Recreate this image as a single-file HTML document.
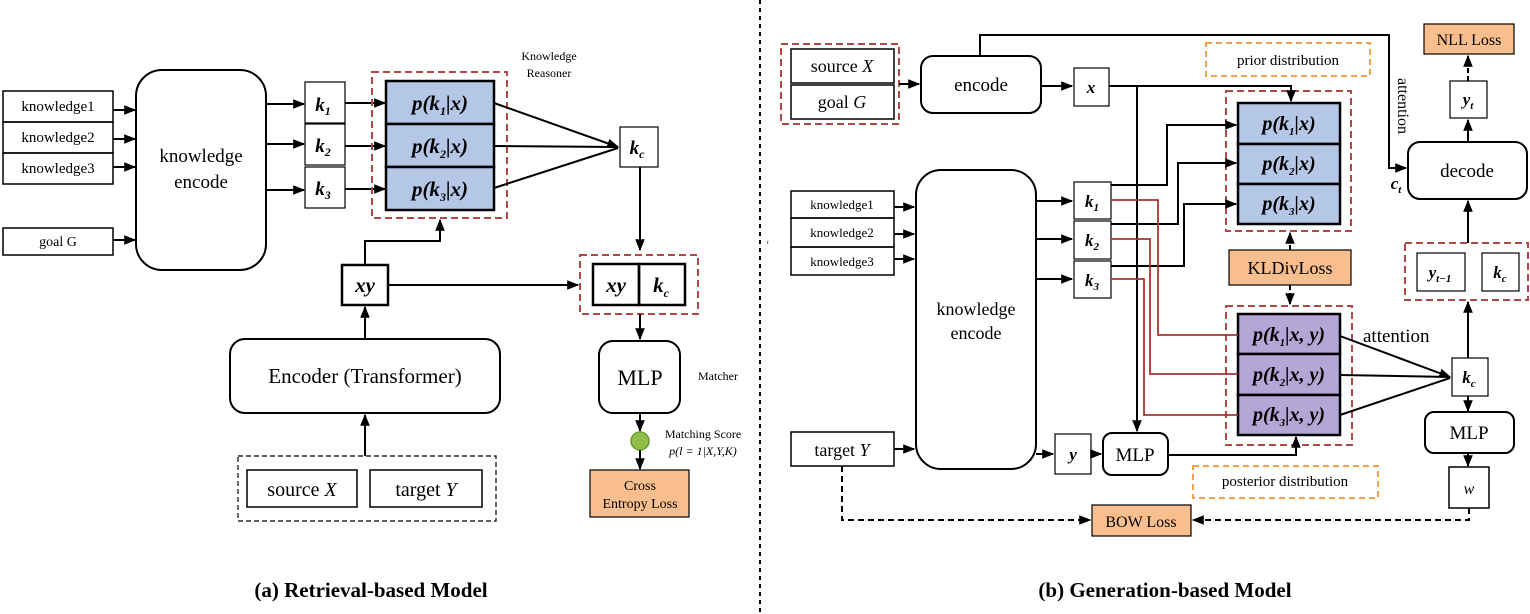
<!DOCTYPE html>
<html><head><meta charset="utf-8"><style>
html,body{margin:0;padding:0;background:#fff}
svg{display:block}
text{font-family:"Liberation Serif",serif;fill:#000}
.m{font-style:italic;font-weight:bold}
</style></head><body>
<svg width="1530" height="614" viewBox="0 0 1530 614" xmlns="http://www.w3.org/2000/svg">
<defs>
<marker id="a" viewBox="0 0 10 10" refX="9" refY="5" markerWidth="6" markerHeight="6" orient="auto-start-reverse"><path d="M0,1 L10,5 L0,9 z" fill="#000"/></marker>
</defs>
<g fill="none" stroke="#000" stroke-width="2">
<!-- LEFT -->
<rect x="3" y="91" width="110" height="31" stroke-width="1.5"/>
<rect x="3" y="122" width="110" height="31" stroke-width="1.5"/>
<rect x="3" y="153" width="110" height="31" stroke-width="1.5"/>
<rect x="3" y="228" width="110" height="27" stroke-width="1.5"/>
<rect x="136" y="70" width="130" height="200" rx="26"/>
<line x1="113" y1="110" x2="135" y2="110" marker-end="url(#a)"/>
<line x1="113" y1="139" x2="135" y2="139" marker-end="url(#a)"/>
<line x1="113" y1="167" x2="135" y2="167" marker-end="url(#a)"/>
<line x1="113" y1="240" x2="135" y2="240" marker-end="url(#a)"/>
<line x1="266" y1="104" x2="304" y2="104" marker-end="url(#a)"/>
<line x1="266" y1="144" x2="304" y2="144" marker-end="url(#a)"/>
<line x1="266" y1="190" x2="304" y2="190" marker-end="url(#a)"/>
<rect x="305" y="82" width="40" height="41" stroke-width="1.2"/>
<rect x="305" y="124" width="40" height="41" stroke-width="1.2"/>
<rect x="305" y="167" width="40" height="41" stroke-width="1.2"/>
<line x1="345" y1="103" x2="385" y2="103" marker-end="url(#a)"/>
<line x1="345" y1="146" x2="385" y2="146" marker-end="url(#a)"/>
<line x1="345" y1="189" x2="385" y2="189" marker-end="url(#a)"/>
<rect x="372" y="72" width="135" height="146" stroke="#b04848" stroke-dasharray="7,4"/>
<rect x="386" y="81" width="108" height="43" fill="#b4c7e7" stroke-width="2.5"/>
<rect x="386" y="124" width="108" height="43" fill="#b4c7e7" stroke-width="2.5"/>
<rect x="386" y="167" width="108" height="43" fill="#b4c7e7" stroke-width="2.5"/>
<line x1="494" y1="103" x2="618" y2="147" marker-end="url(#a)"/>
<line x1="494" y1="146" x2="618" y2="147"/>
<line x1="494" y1="188" x2="618" y2="148"/>
<rect x="620" y="127" width="38" height="40" stroke-width="1.2"/>
<line x1="640" y1="167" x2="640" y2="250" marker-end="url(#a)"/>
<rect x="580" y="255" width="118" height="59" stroke="#b04848" stroke-dasharray="7,4"/>
<rect x="593" y="264" width="46" height="41" stroke-width="2.5"/>
<rect x="639" y="264" width="46" height="41" stroke-width="2.5"/>
<rect x="342" y="265" width="46" height="40" stroke-width="2.5"/>
<polyline points="365,265 365,241 440,241 440,220" marker-end="url(#a)"/>
<line x1="388" y1="285" x2="578" y2="285" marker-end="url(#a)"/>
<rect x="230" y="339" width="270" height="74" rx="15"/>
<line x1="365" y1="339" x2="365" y2="307" marker-end="url(#a)"/>
<rect x="238" y="456" width="258" height="65" stroke-width="1.2" stroke-dasharray="5,3"/>
<rect x="247" y="470" width="110" height="37" stroke-width="1.5"/>
<rect x="370" y="470" width="112" height="37" stroke-width="1.5"/>
<line x1="365" y1="456" x2="365" y2="415" marker-end="url(#a)"/>
<rect x="599" y="341" width="81" height="72" rx="14"/>
<line x1="640" y1="314" x2="640" y2="339" marker-end="url(#a)"/>
<line x1="640" y1="413" x2="640" y2="431" marker-end="url(#a)"/>
<circle cx="640" cy="441" r="9" fill="#8fbf4a" stroke="#6a9a30" stroke-width="1.5"/>
<line x1="640" y1="450" x2="640" y2="469" marker-end="url(#a)"/>
<rect x="590" y="470" width="99" height="47" fill="#f8be8e" stroke-width="1.2"/>
<line x1="760" y1="0" x2="760" y2="614" stroke-width="2" stroke-dasharray="4,4"/>
<!-- RIGHT -->
<rect x="781" y="44" width="118" height="80" stroke="#b04848" stroke-dasharray="7,4"/>
<rect x="791" y="49" width="103" height="34" stroke-width="1.5"/>
<rect x="791" y="85" width="103" height="34" stroke-width="1.5"/>
<line x1="899" y1="84" x2="919" y2="84" marker-end="url(#a)"/>
<rect x="921" y="56" width="120" height="57" rx="12"/>
<line x1="1041" y1="86" x2="1072" y2="86" marker-end="url(#a)"/>
<rect x="1074" y="68" width="35" height="38" stroke-width="1.2"/>
<polyline points="980,56 980,35 1389,35 1389,168 1406,168" marker-end="url(#a)"/>
<rect x="1206" y="43" width="164" height="33" stroke="#f0a050" stroke-dasharray="6,4"/>
<rect x="1424" y="24" width="90" height="30" fill="#f8be8e" stroke-width="1.2"/>
<line x1="1468" y1="81" x2="1468" y2="56" stroke-dasharray="5,3" marker-end="url(#a)"/>
<rect x="1450" y="81" width="37" height="37" stroke-width="1.2"/>
<rect x="1408" y="142" width="119" height="57" rx="12"/>
<line x1="1468" y1="142" x2="1468" y2="120" marker-end="url(#a)"/>
<rect x="1405" y="243" width="123" height="57" stroke="#b04848" stroke-dasharray="7,4"/>
<rect x="1417" y="253" width="48" height="38" stroke-width="1.2"/>
<rect x="1482" y="253" width="37" height="38" stroke-width="1.2"/>
<line x1="1468" y1="243" x2="1468" y2="201" marker-end="url(#a)"/>
<rect x="1452" y="358" width="36" height="38" stroke-width="1.2"/>
<line x1="1468" y1="358" x2="1468" y2="302" marker-end="url(#a)"/>
<line x1="1468" y1="396" x2="1468" y2="411" marker-end="url(#a)"/>
<rect x="1425" y="412" width="89" height="41" rx="9"/>
<line x1="1468" y1="453" x2="1468" y2="466" marker-end="url(#a)"/>
<rect x="1449" y="467" width="40" height="41" stroke-width="1.5"/>
<polyline points="1469,508 1469,520 1193,520" stroke-dasharray="6,4" marker-end="url(#a)"/>
<rect x="1092" y="505" width="99" height="31" fill="#f8be8e" stroke-width="1.2"/>
<polyline points="842,466 842,520 1090,520" stroke-dasharray="6,4" marker-end="url(#a)"/>
<rect x="1226" y="91" width="125" height="140" stroke="#b04848" stroke-dasharray="7,4"/>
<rect x="1238" y="103" width="102" height="41" fill="#b4c7e7" stroke-width="2.5"/>
<rect x="1238" y="144" width="102" height="40" fill="#b4c7e7" stroke-width="2.5"/>
<rect x="1238" y="184" width="102" height="40" fill="#b4c7e7" stroke-width="2.5"/>
<rect x="1229" y="250" width="122" height="35" fill="#f8be8e" stroke-width="1.2"/>
<line x1="1290" y1="250" x2="1290" y2="233" stroke-dasharray="5,3" marker-end="url(#a)"/>
<line x1="1290" y1="285" x2="1290" y2="304" stroke-dasharray="5,3" marker-end="url(#a)"/>
<rect x="1226" y="306" width="126" height="139" stroke="#b04848" stroke-dasharray="7,4"/>
<rect x="1238" y="314" width="102" height="40" fill="#b4a7d6" stroke-width="2.5"/>
<rect x="1238" y="354" width="102" height="41" fill="#b4a7d6" stroke-width="2.5"/>
<rect x="1238" y="395" width="102" height="40" fill="#b4a7d6" stroke-width="2.5"/>
<rect x="1193" y="466" width="185" height="32" stroke="#f0a050" stroke-dasharray="6,4"/>
<line x1="1340" y1="336" x2="1450" y2="377" marker-end="url(#a)"/>
<line x1="1340" y1="375" x2="1450" y2="377"/>
<line x1="1340" y1="415" x2="1450" y2="378"/>
<rect x="791" y="191" width="103" height="27" stroke-width="1.5"/>
<rect x="791" y="218" width="103" height="29" stroke-width="1.5"/>
<rect x="791" y="247" width="103" height="28" stroke-width="1.5"/>
<rect x="791" y="432" width="103" height="34" stroke-width="1.5"/>
<line x1="894" y1="207" x2="914" y2="207" marker-end="url(#a)"/>
<line x1="894" y1="234" x2="914" y2="234" marker-end="url(#a)"/>
<line x1="894" y1="259" x2="914" y2="259" marker-end="url(#a)"/>
<line x1="894" y1="449" x2="914" y2="449" marker-end="url(#a)"/>
<rect x="916" y="170" width="120" height="299" rx="25"/>
<line x1="1036" y1="201" x2="1072" y2="201" marker-end="url(#a)"/>
<line x1="1036" y1="239" x2="1072" y2="239" marker-end="url(#a)"/>
<line x1="1036" y1="279" x2="1072" y2="279" marker-end="url(#a)"/>
<line x1="1036" y1="454" x2="1053" y2="454" marker-end="url(#a)"/>
<rect x="1074" y="182" width="37" height="37" stroke-width="1.2"/>
<rect x="1074" y="221" width="37" height="38" stroke-width="1.2"/>
<rect x="1074" y="261" width="37" height="37" stroke-width="1.2"/>
<rect x="1055" y="434" width="36" height="40" stroke-width="1.2"/>
<line x1="1091" y1="454" x2="1101" y2="454" marker-end="url(#a)"/>
<rect x="1103" y="433" width="65" height="42" rx="9"/>
<polyline points="1168,455 1296,455 1296,437" marker-end="url(#a)"/>
<polyline points="1109,86 1291,86 1291,101" marker-end="url(#a)"/>
<line x1="1137" y1="86" x2="1137" y2="431" marker-end="url(#a)"/>
<polyline points="1111,185 1167,185 1167,125 1236,125" marker-end="url(#a)"/>
<polyline points="1111,224 1178,224 1178,163 1236,163" marker-end="url(#a)"/>
<polyline points="1111,266 1184,266 1184,204 1236,204" marker-end="url(#a)"/>
<g stroke="#a83232" stroke-width="1.8">
<polyline points="1111,200 1158,200 1158,335 1238,335"/>
<polyline points="1111,239 1150,239 1150,374 1238,374"/>
<polyline points="1111,279 1144,279 1144,415 1238,415"/>
</g>
</g>
<!-- LEFT TEXT -->
<g font-size="15" text-anchor="middle">
<text x="58" y="111">knowledge1</text>
<text x="58" y="142">knowledge2</text>
<text x="58" y="173">knowledge3</text>
<text x="58" y="246" font-size="14">goal G</text>
</g>
<text x="201" y="162" font-size="19" text-anchor="middle">knowledge</text>
<text x="201" y="188" font-size="19" text-anchor="middle">encode</text>
<g class="m" font-size="19" text-anchor="middle">
<text x="323" y="111">k<tspan font-size="12" dy="4">1</tspan></text>
<text x="323" y="152">k<tspan font-size="12" dy="4">2</tspan></text>
<text x="323" y="195">k<tspan font-size="12" dy="4">3</tspan></text>
<text x="440" y="110" font-size="21">p(k<tspan font-size="12" dy="5">1</tspan><tspan dy="-5">|x)</tspan></text>
<text x="440" y="153" font-size="21">p(k<tspan font-size="12" dy="5">2</tspan><tspan dy="-5">|x)</tspan></text>
<text x="440" y="196" font-size="21">p(k<tspan font-size="12" dy="5">3</tspan><tspan dy="-5">|x)</tspan></text>
<text x="637" y="154">k<tspan font-size="12" dy="4">c</tspan></text>
<text x="365" y="292" font-size="21">xy</text>
<text x="616" y="292" font-size="21">xy</text>
<text x="661" y="292" font-size="21">k<tspan font-size="12" dy="5">c</tspan></text>
</g>
<text x="549" y="60" font-size="12" text-anchor="middle">Knowledge</text>
<text x="549" y="77" font-size="12" text-anchor="middle">Reasoner</text>
<text x="365" y="383" font-size="21" text-anchor="middle">Encoder (Transformer)</text>
<text x="302" y="496" font-size="20" text-anchor="middle">source <tspan font-style="italic">X</tspan></text>
<text x="426" y="496" font-size="20" text-anchor="middle">target <tspan font-style="italic">Y</tspan></text>
<text x="640" y="385" font-size="22" text-anchor="middle">MLP</text>
<text x="718" y="380" font-size="12" text-anchor="middle">Matcher</text>
<text x="703" y="438" font-size="12" text-anchor="middle">Matching Score</text>
<text x="703" y="455" font-size="12" text-anchor="middle" font-style="italic">p(l = 1|X,Y,K)</text>
<text x="640" y="490" font-size="14" text-anchor="middle">Cross</text>
<text x="640" y="508" font-size="14" text-anchor="middle">Entropy Loss</text>
<text x="371" y="597" font-size="21" text-anchor="middle" font-weight="bold">(a) Retrieval-based Model</text>
<!-- RIGHT TEXT -->
<text x="842" y="72" font-size="18" text-anchor="middle">source <tspan font-style="italic">X</tspan></text>
<text x="842" y="108" font-size="18" text-anchor="middle">goal <tspan font-style="italic">G</tspan></text>
<text x="981" y="91" font-size="19" text-anchor="middle">encode</text>
<text x="1288" y="65" font-size="15" text-anchor="middle">prior distribution</text>
<text x="1469" y="45" font-size="16" text-anchor="middle">NLL Loss</text>
<text x="1398" y="78" font-size="16" transform="rotate(90 1398 78)">attention</text>
<text x="1467" y="177" font-size="19" text-anchor="middle">decode</text>
<text x="842" y="209" font-size="13" text-anchor="middle">knowledge1</text>
<text x="842" y="237" font-size="13" text-anchor="middle">knowledge2</text>
<text x="842" y="266" font-size="13" text-anchor="middle">knowledge3</text>
<text x="842" y="456" font-size="18" text-anchor="middle">target <tspan font-style="italic">Y</tspan></text>
<text x="976" y="315" font-size="18" text-anchor="middle">knowledge</text>
<text x="976" y="339" font-size="18" text-anchor="middle">encode</text>
<text x="1135" y="461" font-size="19" text-anchor="middle">MLP</text>
<text x="1290" y="274" font-size="18" text-anchor="middle">KLDivLoss</text>
<text x="1285" y="486" font-size="15" text-anchor="middle">posterior distribution</text>
<text x="1141" y="527" font-size="16" text-anchor="middle">BOW Loss</text>
<text x="1363" y="342" font-size="19" font-family="Liberation Sans,sans-serif">attention</text>
<text x="1469" y="439" font-size="19" text-anchor="middle">MLP</text>
<text x="1469" y="494" font-size="16" text-anchor="middle" font-style="italic">w</text>
<text x="767" y="244" font-size="6">r</text>
<g class="m" font-size="17" text-anchor="middle">
<text x="1091" y="93">x</text>
<text x="1092" y="207">k<tspan font-size="11" dy="4">1</tspan></text>
<text x="1092" y="246">k<tspan font-size="11" dy="4">2</tspan></text>
<text x="1092" y="286">k<tspan font-size="11" dy="4">3</tspan></text>
<text x="1073" y="460">y</text>
<text x="1468" y="105">y<tspan font-size="11" dy="4">t</tspan></text>
<text x="1440" y="278">y<tspan font-size="11" dy="4">t−1</tspan></text>
<text x="1500" y="278">k<tspan font-size="11" dy="4">c</tspan></text>
<text x="1469" y="383">k<tspan font-size="11" dy="4">c</tspan></text>
<text x="1396" y="189">c<tspan font-size="11" dy="4">t</tspan></text>
<text x="1289" y="130" font-size="20">p(k<tspan font-size="11" dy="5">1</tspan><tspan dy="-5">|x)</tspan></text>
<text x="1289" y="170" font-size="20">p(k<tspan font-size="11" dy="5">2</tspan><tspan dy="-5">|x)</tspan></text>
<text x="1289" y="210" font-size="20">p(k<tspan font-size="11" dy="5">3</tspan><tspan dy="-5">|x)</tspan></text>
<text x="1289" y="341" font-size="20">p(k<tspan font-size="11" dy="5">1</tspan><tspan dy="-5">|x, y)</tspan></text>
<text x="1289" y="381" font-size="20">p(k<tspan font-size="11" dy="5">2</tspan><tspan dy="-5">|x, y)</tspan></text>
<text x="1289" y="421" font-size="20">p(k<tspan font-size="11" dy="5">3</tspan><tspan dy="-5">|x, y)</tspan></text>
</g>
<text x="1165" y="597" font-size="21" text-anchor="middle" font-weight="bold">(b) Generation-based Model</text>
</svg>
</body></html>
